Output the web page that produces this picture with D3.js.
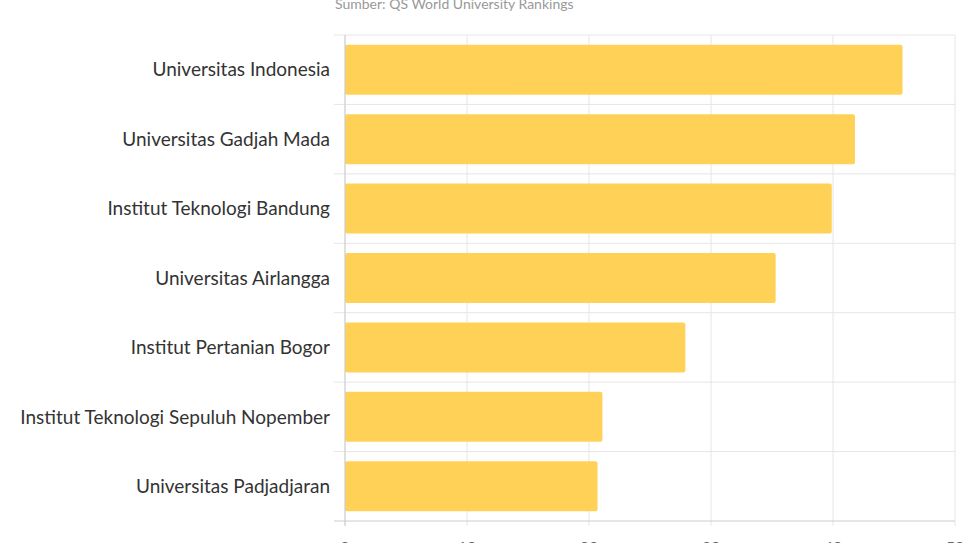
<!DOCTYPE html>
<html><head><meta charset="utf-8">
<script src="https://cdn.jsdelivr.net/npm/d3@7"></script>
<style>body{margin:0;background:#fff;}svg{display:block;font-family:Lato,"Open Sans",sans-serif;}</style>
</head><body><svg id="chart" width="968" height="543"></svg>
<script>
var universities = ['Universitas Indonesia', 'Universitas Gadjah Mada', 'Institut Teknologi Bandung',
    'Universitas Airlangga', 'Institut Pertanian Bogor', 'Institut Teknologi Sepuluh Nopember', 'Universitas Padjadjaran'];
var scores = [45.7, 41.8, 39.9, 35.3, 27.9, 21.1, 20.7];
var ticks = [0, 10, 20, 30, 40, 50];

var svg = d3.select('#chart');
var plotLeft = 345, plotRight = 955, plotTop = 35, plotBottom = 521;

var x = d3.scaleLinear().domain([0, 50]).range([plotLeft, plotRight]);
var y = d3.scaleBand().domain(universities).range([plotTop, plotBottom]).paddingInner(0.28).paddingOuter(0.14);
var rowH = (plotBottom - plotTop) / universities.length;

svg.append('text').attr('x', 335).attr('y', 9).attr('fill', '#999').attr('font-size', 14)
    .text('Sumber: QS World University Rankings');

// grid
svg.append('g').selectAll('line').data(ticks).join('line')
    .attr('x1', d => x(d)).attr('x2', d => x(d)).attr('y1', plotTop).attr('y2', plotBottom + 5)
    .attr('stroke', '#e6e6e6');
svg.append('g').selectAll('line').data(d3.range(universities.length)).join('line')
    .attr('x1', 334).attr('x2', plotRight)
    .attr('y1', d => plotTop + d * rowH).attr('y2', d => plotTop + d * rowH)
    .attr('stroke', '#e6e6e6');

svg.append('g').selectAll('rect').data(scores).join('rect')
    .attr('x', x(0)).attr('y', (d, i) => y(universities[i]))
    .attr('width', d => x(d) - x(0)).attr('height', y.bandwidth())
    .attr('rx', 2).attr('fill', '#ffd257');

// axis lines
svg.append('line').attr('x1', x(0)).attr('x2', x(0)).attr('y1', plotTop).attr('y2', plotBottom + 5).attr('stroke', '#ccc');
svg.append('line').attr('x1', 334).attr('x2', plotRight).attr('y1', plotBottom).attr('y2', plotBottom).attr('stroke', '#ccc');

svg.append('g').selectAll('text').data(universities).join('text')
    .attr('x', 330).attr('y', d => y(d) + y.bandwidth() / 2).attr('dy', '0.35em')
    .attr('text-anchor', 'end').attr('font-size', 19).attr('fill', '#333').text(d => d);

svg.append('g').selectAll('text').data(ticks).join('text')
    .attr('x', d => x(d)).attr('y', plotBottom + 32).attr('text-anchor', 'middle')
    .attr('font-size', 16).attr('fill', '#666').text(d => d);
</script></body></html>
